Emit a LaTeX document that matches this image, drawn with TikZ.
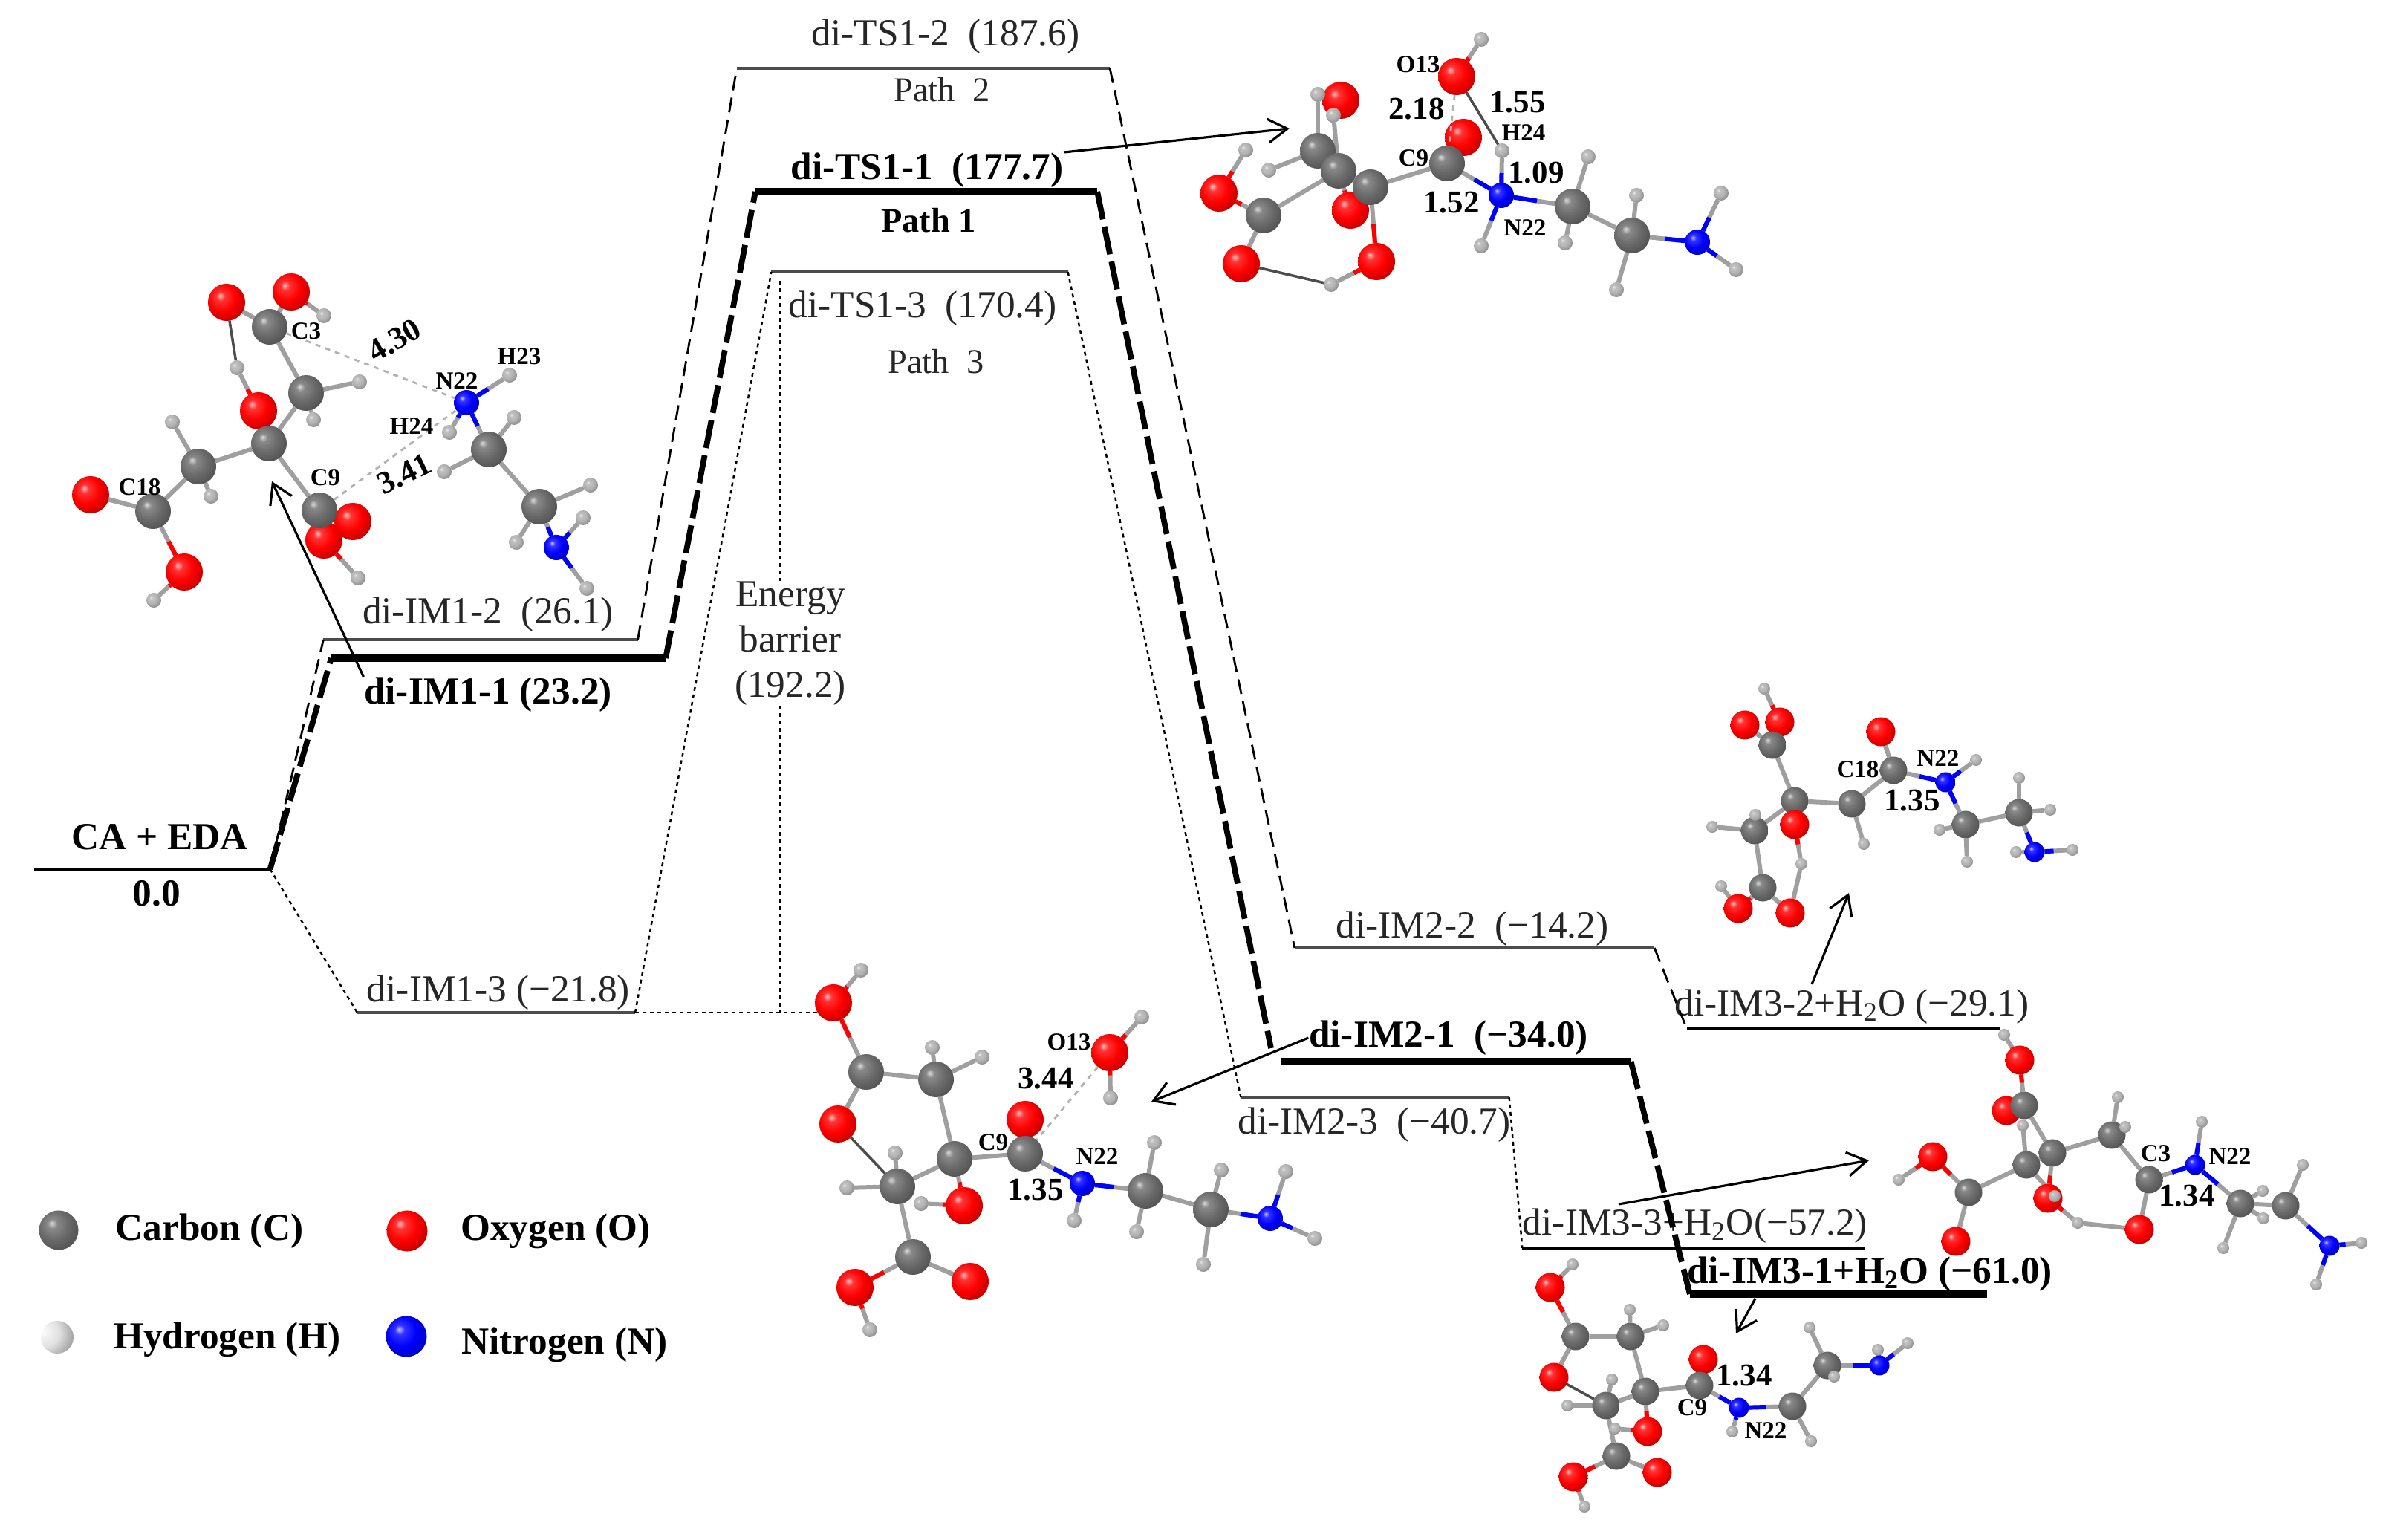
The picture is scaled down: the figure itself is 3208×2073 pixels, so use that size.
\documentclass[tikz,border=0pt]{standalone}
\usepackage{fontspec}
\setmainfont{Liberation Serif}
\usetikzlibrary{positioning, arrows.meta, calc, backgrounds}

\newcommand{\placeatoms}[2]{\foreach \n/\x/\y in {#2} \node[#1] (\n) at (\x, \y) {};}
\newcommand{\plainbonds}[1]{\begin{scope}[on background layer]
  \foreach \a/\b in {#1} \draw[bond] (\a) -- (\b);\end{scope}}
\newcommand{\tintbonds}[2]{\begin{scope}[on background layer]
  \foreach \a/\b in {#2} {\draw[bond] (\a) -- (\b); \draw[bond, draw=#1] ($(\a)!.5!(\b)$) -- (\b);}\end{scope}}

% shaded atoms
\colorlet{cbase}{black!58}
\colorlet{hbase}{black!30}
\newcommand{\declareball}[2]{\pgfdeclareradialshading{#1}{\pgfpoint{-9bp}{9bp}}{%
  color(0bp)=(#2!25!white); color(6bp)=(#2!80!white); color(18bp)=(#2); color(34bp)=(#2!72!black); color(60bp)=(#2!30!black)}}
\declareball{cball}{cbase}
\declareball{oball}{red}
\declareball{hball}{hbase}
\declareball{nball}{blue}
\pgfdeclareradialshading{legball}{\pgfpoint{-26bp}{10bp}}{%
  color(0bp)=(white); color(22bp)=(black!12); color(48bp)=(black!50); color(80bp)=(black!65)}

\begin{document}
\begin{tikzpicture}[
  x=0.01cm, y=-0.01cm,
  atom/.style={circle, inner sep=0pt, outer sep=0pt},
  catom/.style={atom, shading=cball, minimum size=0.48cm},
  oatom/.style={atom, shading=oball, minimum size=0.5cm},
  hatom/.style={atom, shading=hball, minimum size=0.2cm},
  natom/.style={atom, shading=nball, minimum size=0.34cm},
  smallmol/.style={catom/.append style={minimum size=0.37cm}, oatom/.append style={minimum size=0.39cm},
    hatom/.append style={minimum size=0.16cm}, natom/.append style={minimum size=0.27cm}},
  bond/.style={draw=gray!75, line width=1.7pt},
  hbond/.style={draw=gray!60, line width=0.8pt, dash pattern=on 0.07cm off 0.07cm},
  hlink/.style={draw=gray!60!black, line width=1pt},
  atomlab/.style={inner sep=0pt, font=\fontsize{9.4}{10}\selectfont\bfseries},
  distlab/.style={inner sep=0pt, font=\fontsize{12.2}{14}\selectfont\bfseries},
  txt/.style={inner sep=0pt, align=center, text=black!85, font=\fontsize{14.6}{17.4}\selectfont},
  txtb/.style={inner sep=0pt, align=center, font=\fontsize{14.6}{17.4}\selectfont\bfseries},
  pathtxt/.style={font=\fontsize{13.2}{16}\selectfont},
  rung/.style={inner sep=0pt, outer sep=0pt, fill=black!70, minimum height=0.045cm},
  rungk/.style={rung, fill=black, minimum height=0.035cm},
  rungb/.style={rung, fill=black, minimum height=0.1cm},
  pathone/.style={line width=2.2pt, dash pattern=on 0.38cm off 0.1cm},
  pathtwo/.style={line width=0.8pt, dash pattern=on 0.2cm off 0.1cm},
  paththree/.style={line width=0.7pt, dash pattern=on 0.05cm off 0.05cm},
  pointer/.style={line width=0.9pt, -{Straight Barb[length=0.26cm, width=0.32cm]}}
]
\useasboundingbox (0, 0) rectangle (3208, 2073);

% energy levels
\node[rungk, minimum width=3.17cm] (start) at (205, 1170) {};
\node[rung, minimum width=4.23cm] (im12) at (647, 861) {};
\node[rungb, minimum width=4.5cm] (im11) at (671, 886) {};
\node[rung, minimum width=3.74cm] (im13) at (668, 1363) {};
\node[rung, minimum width=5.02cm] (ts12) at (1243, 92) {};
\node[rungb, minimum width=4.6cm] (ts11) at (1247, 258) {};
\node[rung, minimum width=3.99cm] (ts13) at (1238, 366) {};
\node[rung, minimum width=4.84cm] (im22) at (1985, 1276) {};
\node[rungb, minimum width=4.71cm] (im21) at (1960, 1429) {};
\node[rung, minimum width=3.61cm] (im23) at (1851, 1477) {};
\node[rungk, minimum width=4.22cm] (im32) at (2482, 1385) {};
\node[rungk, minimum width=4.61cm] (im33) at (2280, 1680) {};
\node[rungb, minimum width=4.0cm] (im31) at (2475, 1742) {};

% level labels
\node[txtb] (starttxt) at (215, 1127) {CA + EDA};
\node[txtb] (zerotxt) at (211, 1203) {0.0};
\node[txt] (im12txt) at (657, 827) {di-IM1-2~~(26.1)};
\node[txtb] (im11txt) at (657, 935) {di-IM1-1 (23.2)};
\node[txt] (im13txt) at (671, 1336) {di-IM1-3 (−21.8)};
\node[txt] (ts12txt) at (1273, 49) {di-TS1-2~~(187.6)};
\node[txt, pathtxt] (p2txt) at (1268, 121) {Path~~2};
\node[txtb, pathtxt] (p1txt) at (1250, 297) {\bfseries Path 1};
\node[txtb] (ts11txt) at (1248, 229) {di-TS1-1~~(177.7)};
\node[txt] (ts13txt) at (1242, 415) {di-TS1-3~~(170.4)};
\node[txt, pathtxt] (p3txt) at (1260, 487) {Path~~3};
\node[txt] (barrier) at (1064, 866) {Energy\\barrier\\(192.2)};
\node[txt] (im22txt) at (1982, 1250) {di-IM2-2~~(−14.2)};
\node[txtb] (im21txt) at (1950, 1397) {di-IM2-1~~(−34.0)};
\node[txt] (im23txt) at (1850, 1514) {di-IM2-3~~(−40.7)};
\node[txt] (im32txt) at (2493, 1355) {di-IM3-2+H\textsubscript{2}O (−29.1)};
\node[txt] (im33txt) at (2282, 1650) {di-IM3-3+H\textsubscript{2}O(−57.2)};
\node[txtb] (im31txt) at (2517, 1715) {di-IM3-1+H\textsubscript{2}O (−61.0)};

% path 1
\coordinate (im21in) at (1711, 1411);
\draw[pathone] (start.east) -- (im11.west);
\draw[pathone] (im11.east) -- (ts11.west);
\draw[pathone] (ts11.east) -- (im21in);
\draw[pathone] (im21.east) -- (im31.west);
% path 2
\draw[pathtwo] (start.east) -- (im12.west);
\draw[pathtwo] (im12.east) -- (ts12.west);
\draw[pathtwo] (ts12.east) -- (im22.west);
\draw[pathtwo] (im22.east) -- (im32.west);
% path 3
\draw[paththree] (start.east) -- (im13.west);
\draw[paththree] (im13.east) -- (ts13.west);
\draw[paththree] (ts13.east) -- (im23.west);
\draw[paththree] (im23.east) -- (im33.west);

% barrier guide
\coordinate (bartop) at (1050, 378);
\coordinate (barfoot) at (1050, 1363);
\coordinate (barmol) at (1112, 1363);
\draw[paththree] (bartop) -- (barrier.north -| bartop);
\draw[paththree] (barrier.south -| barfoot) -- (barfoot);
\draw[paththree] (im13.east) -- (barmol);

% molecule di-IM1-1
\begin{scope}[name prefix=ma-]
\placeatoms{oatom}{o1/305/407, o2/392/393, o3/348/553, o4/122/666, o5/248/770, o7/436/727, o6/475/702}
\placeatoms{catom}{c3/363/440, c4/412/529, c5/362/597, c6/267/628, c18/206/688, c9/430/687, c7/658/605, c8/726/682}
\placeatoms{hatom}{h1/436/425, h2/319/495, h3/484/514, h4/422/565, h5/232/568, h6/284/668, h7/207/808, h8/482/778,
  h23/686/505, h24/605/582, h9/692/562, h10/598/635, h11/795/653, h12/695/730, h13/785/697, h14/790/792}
\placeatoms{natom}{n22/628/542, n2/749/737}
\plainbonds{c3/c4, c4/c5, c5/c6, c6/c18, c5/c9, c4/h3, c4/h4, c6/h5, c6/h6, c7/h9, c7/h10, c7/c8, c8/h11, c8/h12}
\tintbonds{gray!75}{c3/o1, c3/o2, c5/o3, c18/o4, c9/o6}
\tintbonds{red}{h2/o3, h1/o2, h7/o5, h8/o7, c18/o5, c9/o7}
\tintbonds{blue}{h23/n22, h24/n22, c7/n22, c8/n2, h13/n2, h14/n2}
\draw[hlink] (o1) -- (h2);
\draw[hbond] (c3) -- (n22);
\draw[hbond] (c9) -- (n22);
\node[atomlab] (lc3) at (412, 446) {C3};
\node[atomlab] (ln22) at (615, 513) {N22};
\node[atomlab] (lh23) at (699, 480) {H23};
\node[atomlab] (lh24) at (554, 574) {H24};
\node[atomlab] (lc18) at (188, 656) {C18};
\node[atomlab] (lc9) at (438, 643) {C9};
\node[distlab, rotate=30] (d1) at (531, 458) {4.30};
\node[distlab, rotate=26] (d2) at (544, 638) {3.41};
\end{scope}

% molecule di-TS1-1
\begin{scope}[name prefix=mb-]
\placeatoms{oatom}{o13/1961/103, o1/1805/135, o2/1970/185, o3/1818/283, o4/1641/260, o5/1671/355, o6/1853/352}
\placeatoms{catom}{c1/1774/203, c2/1802/230, c3/1845/252, c9/1948/220, c4/1701/290, c5/2117/278, c6/2197/317}
\placeatoms{hatom}{h1/1994/53, h2/1774/127, h3/1795/155, h4/1708/229, h24/2022/203, h5/1994/331, h6/2138/211, h7/2107/327,
  h8/2203/263, h9/2176/390, h10/2317/260, h11/2337/363, h12/1677/202, h13/1792/383}
\placeatoms{natom}{n22/2021/263, n2/2285/326}
\plainbonds{c1/h2, c1/h4, c1/c2, c2/h3, c2/c3, c3/c9, c2/c4, c5/h6, c5/h7, c5/c6, c6/h8, c6/h9}
\tintbonds{red}{c2/o3, c4/o4, c3/o6, h1/o13, h12/o4, h13/o6, h3/o1}
\tintbonds{gray!75}{c4/o5, c9/o2}
\tintbonds{blue}{c9/n22, h24/n22, h5/n22, c5/n22, c6/n2, h10/n2, h11/n2}
\draw[hlink] (o13) -- (h24);
\draw[hlink] (h13) -- (o5);
\draw[hbond] (o13) -- (c9);
\node[atomlab] (lo13) at (1909, 87) {O13};
\node[atomlab] (lh24) at (2051, 179) {H24};
\node[atomlab] (lc9) at (1903, 213) {C9};
\node[atomlab] (ln22) at (2053, 307) {N22};
\node[distlab] (d1) at (1907, 147) {2.18};
\node[distlab] (d2) at (2043, 138) {1.55};
\node[distlab] (d3) at (2068, 233) {1.09};
\node[distlab] (d4) at (1954, 273) {1.52};
\end{scope}

% molecule di-IM2-1
\begin{scope}[name prefix=mc-]
\placeatoms{oatom}{o1/1122/1350, o2/1128/1513, o3/1380/1507, o13/1494/1417, o5/1151/1733, o6/1306/1725}
\placeatoms{catom}{c1/1166/1443, c2/1260/1453, c3/1285/1560, c9/1380/1553, c4/1542/1603, c5/1630/1628, c6/1208/1597, c7/1229/1692}
\placeatoms{oatom}{o4/1298/1623}
\placeatoms{hatom}{h1/1159/1306, h2/1255/1410, h3/1322/1423, h4/1537/1369, h5/1495/1478, h6/1446/1643, h7/1554/1538,
  h8/1530/1658, h9/1644/1575, h10/1620/1702, h11/1731/1577, h12/1770/1667, h13/1205/1552, h14/1140/1599, h15/1240/1620, h16/1171/1790}
\placeatoms{natom}{n22/1457/1593, n2/1710/1640}
\plainbonds{c1/c2, c2/c3, c3/c9, c3/c6, c2/h2, c2/h3, c4/c5, c4/h7, c4/h8, c5/h9, c5/h10, c6/h13, c6/h14, c6/c7}
\tintbonds{red}{c1/o1, c3/o4, c7/o5, h1/o1, h4/o13, h5/o13, h15/o4, h16/o5}
\tintbonds{gray!75}{c1/o2, c9/o3, c7/o6}
\tintbonds{blue}{c9/n22, h6/n22, c4/n22, c5/n2, h11/n2, h12/n2}
\draw[hlink] (o2) -- (c6);
\draw[hbond] (o13) -- (c9);
\node[atomlab] (lo13) at (1439, 1403) {O13};
\node[atomlab] (lc9) at (1337, 1538) {C9};
\node[atomlab] (ln22) at (1477, 1557) {N22};
\node[distlab] (d1) at (1408, 1452) {3.44};
\node[distlab] (d2) at (1394, 1602) {1.35};
\end{scope}

% molecule di-IM3-2
\begin{scope}[name prefix=md-, smallmol]
\placeatoms{oatom}{o1/2396/972, o2/2349/976, o3/2532/985, o5/2340/1223, o6/2410/1229}
\placeatoms{catom}{c1/2386/1003, c2/2416/1078, c3/2493/1082, c18/2549/1037, c4/2646/1110, c5/2718/1094, c6/2362/1118, c7/2373/1195}
\placeatoms{oatom}{o4/2416/1110}
\placeatoms{hatom}{h1/2375/927, h2/2509/1136, h3/2660/1023, h4/2611/1117, h5/2648/1160, h6/2718/1047, h7/2760/1090,
  h8/2714/1147, h9/2790/1144, h10/2363/1097, h11/2305/1113, h12/2425/1163, h13/2317/1193}
\placeatoms{natom}{n22/2619/1053, n2/2739/1147}
\plainbonds{c1/c2, c2/c3, c3/c18, c2/c6, c3/h2, c4/h4, c4/h5, c4/c5, c5/h6, c5/h7, c6/h10, c6/h11, c6/c7, h12/o6}
\tintbonds{red}{c1/o1, c7/o5, h1/o1, h12/o4, h13/o5}
\tintbonds{gray!75}{c1/o2, c18/o3, c2/o4, c7/o6}
\tintbonds{blue}{c18/n22, h3/n22, c4/n22, c5/n2, h8/n2, h9/n2}
\node[atomlab] (lc18) at (2501, 1036) {C18};
\node[atomlab] (ln22) at (2609, 1021) {N22};
\node[distlab] (d1) at (2574, 1078) {1.35};
\end{scope}

% molecule di-IM3-3
\begin{scope}[name prefix=me-, smallmol]
\placeatoms{oatom}{o1/2719/1427, o2/2701/1495, o3/2757/1613, o4/2880/1655, o5/2602/1557, o6/2633/1671}
\placeatoms{catom}{c1/2725/1488, c3/2728/1568, c2/2763/1552, c4/2843/1528, c5/2893/1588, c6/3016/1620, c7/3077/1623, c8/2650/1605}
\placeatoms{hatom}{h1/2698/1393, h2/2723/1515, h3/2851/1477, h4/2861/1517, h5/2964/1510, h6/3046/1603, h7/3047/1640,
  h8/2993/1680, h9/3100/1568, h10/3179/1673, h11/3118/1729, h12/2556/1588, h13/2766/1610, h14/2797/1646}
\placeatoms{natom}{n22/2955/1568, n2/3136/1677}
\plainbonds{c1/c2, c2/c4, c4/c5, c3/c8, c3/h2, c3/h13, c4/h3, c4/h4, c6/c7, c6/h6, c6/h7, c6/h8, c7/h9, c2/c3, h14/o4}
\tintbonds{red}{c1/o1, c2/o3, c8/o5, h1/o1, h12/o5, h14/o3}
\tintbonds{gray!75}{c1/o2, c5/o4, c8/o6}
\tintbonds{blue}{c5/n22, h5/n22, c6/n22, c7/n2, h10/n2, h11/n2}
\node[atomlab] (lc3) at (2902, 1553) {C3};
\node[atomlab] (ln22) at (3002, 1557) {N22};
\node[distlab] (d1) at (2944, 1610) {1.34};
\end{scope}

% molecule di-IM3-1
\begin{scope}[name prefix=mf-, smallmol]
\placeatoms{oatom}{o1/2087/1733, o2/2092/1854, o3/2293/1830, o4/2218/1927, o5/2118/1988, o6/2231/1982}
\placeatoms{catom}{c1/2121/1799, c2/2195/1799, c3/2215/1873, c9/2288/1865, c4/2413/1893, c5/2460/1838, c6/2162/1892, c7/2176/1960}
\placeatoms{hatom}{h1/2117/1702, h2/2194/1763, h3/2239/1784, h4/2332/1927, h5/2438/1940, h6/2436/1787, h7/2469/1853,
  h8/2528/1817, h9/2568/1808, h10/2170/1857, h11/2110/1892, h12/2174/1923, h13/2133/2028}
\placeatoms{natom}{n22/2341/1895, n2/2530/1838}
\plainbonds{c1/c2, c2/c3, c3/c9, c3/c6, c2/h2, c2/h3, c4/c5, c4/h5, c5/h6, c5/h7, c6/h10, c6/h11, c6/c7}
\tintbonds{red}{c1/o1, c3/o4, c7/o5, h1/o1, h12/o4, h13/o5}
\tintbonds{gray!75}{c1/o2, c9/o3, c7/o6}
\tintbonds{blue}{c9/n22, h4/n22, c4/n22, c5/n2, h8/n2, h9/n2}
\draw[hlink] (o2) -- (c6);
\node[atomlab] (lc9) at (2278, 1895) {C9};
\node[atomlab] (ln22) at (2377, 1926) {N22};
\node[distlab] (d1) at (2348, 1852) {1.34};
\end{scope}

% pointers from labels to molecules
\coordinate (tipa) at (366, 648);
\coordinate (tipb) at (1736, 173);
\coordinate (tipc) at (1550, 1483);
\coordinate (taild) at (2439, 1325);
\coordinate (tipd) at (2489, 1202);
\coordinate (taile) at (2179, 1621);
\coordinate (tipe) at (2516, 1562);
\coordinate (tailf) at (2363, 1748);
\coordinate (tipf) at (2337, 1795);
\draw[pointer] (im11txt.north west) -- (tipa);
\draw[pointer] (ts11txt.north east) -- (tipb);
\draw[pointer] (im21txt.west) -- (tipc);
\draw[pointer] (taild) -- (tipd);
\draw[pointer] (taile) -- (tipe);
\draw[pointer] (tailf) -- (tipf);

% legend
\node[catom, minimum size=0.53cm] (legc) at (79, 1656) {};
\node[oatom, minimum size=0.55cm] (lego) at (548, 1657) {};
\node[atom, shading=legball, minimum size=0.44cm] (legh) at (77, 1800) {};
\node[natom, minimum size=0.55cm] (legn) at (547, 1799) {};
\node[txtb] (legctxt) at (282, 1657) {Carbon (C)};
\node[txtb] (legotxt) at (748, 1657) {Oxygen (O)};
\node[txtb] (leghtxt) at (306, 1803) {Hydrogen (H)};
\node[txtb] (legntxt) at (760, 1810) {Nitrogen (N)};

\end{tikzpicture}
\end{document}
